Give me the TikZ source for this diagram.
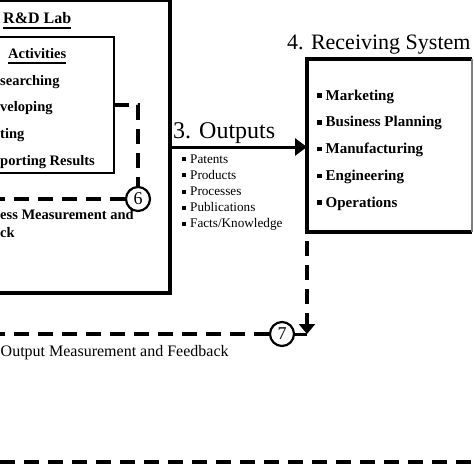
\documentclass[tikz,border=0pt]{standalone}
\usepackage{fontspec}
\setmainfont{Liberation Serif}
\usetikzlibrary{arrows.meta,calc}

\tikzset{
  heavy/.style={line width=4.5pt},
  fb/.style={line width=3.5pt, dash pattern=on 15pt off 9pt},
  num/.style={draw, circle, line width=2.2pt, inner sep=0pt, minimum size=24pt, fill=white, font=\fontsize{18}{18}\selectfont},
  txt/.style={inner sep=0pt, anchor=base west},
  headbf/.style={txt, font=\fontsize{16}{16}\selectfont\bfseries},
  itembf/.style={txt, font=\fontsize{15}{15}\selectfont\bfseries},
  actitem/.style={txt, font=\fontsize{14.5}{14.5}\selectfont\bfseries},
  outitem/.style={txt, font=\fontsize{13.2}{13.2}\selectfont},
}

\begin{document}
\begin{tikzpicture}[x=1pt,y=-1pt]
    \useasboundingbox (0,0) rectangle (474,474);
    \clip (0,0) rectangle (474,474);
    \def\sqb{\rule[0.14em]{0.3em}{0.3em}\hspace{4pt}}
    % R&D Lab (cut at the left)
    \draw[heavy] (-60,0) rectangle (170,293);
    \coordinate (labE) at (170,147);
    \node[headbf] (labT) at (3,23) {R\&D Lab};
    \draw[line width=2pt] ([yshift=-5pt]labT.base west) -- ([yshift=-5pt]labT.base east);
    % Activities
    \draw[line width=2.5pt] (-40,37) rectangle (114,173);
    \node[actitem] (actT) at (8,58) {Activities};
    \draw[line width=2pt] ([yshift=-5pt]actT.base west) -- ([yshift=-5pt]actT.base east);
    \foreach \t [count=\i] in {searching, veloping, ting, porting Results}
      \node[actitem] (act\i) at (0,{85+26.7*(\i-1)}) {\t};
    % Process feedback (6)
    \coordinate (actE) at (114,105);
    \node[num] (six) at (138,199) {6};
    \coordinate (sixL) at (0,199);
    \draw[fb] (actE) -- (actE -| six) -- (six);
    \draw[fb] (six) -- (sixL);
    \node[txt, font=\fontsize{14.5}{14.5}\selectfont\bfseries] (fbA) at (0,219) {ess Measurement and};
    \node[txt, font=\fontsize{14.5}{14.5}\selectfont\bfseries] (fbB) at (0,237) {ck};
    % Receiving System
    \node[txt, font=\fontsize{22}{22}\selectfont] (recvT) at (287,49) {4. Receiving System};
    \node[minimum width=165pt, minimum height=173pt, inner sep=0pt, outer sep=0pt, anchor=north west] (recv) at (307,59) {};
    \draw[line width=4pt] (recv.north east) -| (recv.south west) -- (recv.south east);
    \draw[gray, line width=1.5pt] (recv.north east) -- (recv.south east);
    \foreach \t [count=\i] in {Marketing, Business Planning, Manufacturing, Engineering, Operations}
      \node[itembf] (recv\i) at (317,{100+26.75*(\i-1)}) {\sqb\t};
    % Outputs
    \node[txt, font=\fontsize{24}{24}\selectfont] (outT) at (173,138) {3. Outputs};
    \draw[line width=3pt, -{Triangle[length=12pt,width=17pt]}] (labE) -- (labE -| recv.west);
    \foreach \t [count=\i] in {Patents, Products, Processes, Publications, Facts/Knowledge}
      \node[outitem] (out\i) at (182,{163+16.2*(\i-1)}) {\sqb\t};
    % Output feedback (7)
    \node[num] (seven) at (282,334) {7};
    \coordinate (drop) at (recv.south west |- seven);
    \coordinate (sevenL) at (0,334);
    \draw[fb, dash phase=15pt, -{Triangle[length=10pt,width=16pt]}] (recv.south west) -- (drop);
    \draw[line width=3pt] (seven) -- (drop);
    \draw[fb] (seven) -- (sevenL);
    \node[txt, font=\fontsize{16}{16}\selectfont] (fbOut) at (0.5,356) {Output Measurement and Feedback};
    % bottom boundary
    \coordinate (botL) at (0,462);
    \coordinate (botR) at (474,462);
    \draw[fb, line width=4pt] (botL) -- (botR);
\end{tikzpicture}
\end{document}
